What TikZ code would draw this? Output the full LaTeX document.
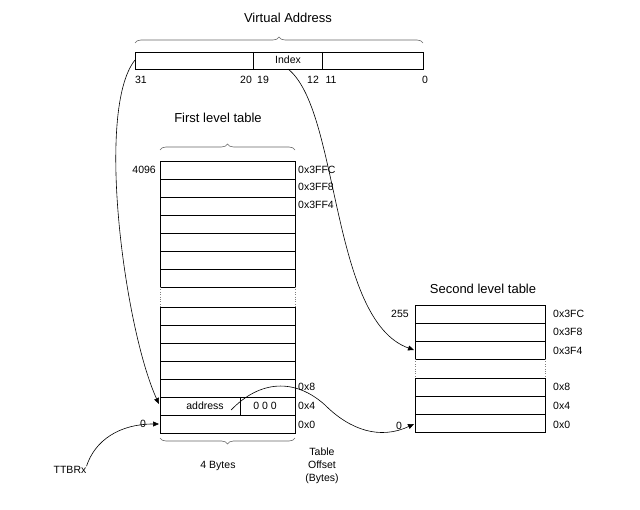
\documentclass[tikz,border=0pt]{standalone}
\usepackage{fontspec}
\setmainfont{Liberation Sans}
\usetikzlibrary{decorations.pathreplacing,arrows.meta}
\begin{document}
\begin{tikzpicture}[x=1pt,y=-1pt,
  cell/.style={draw,line width=0.6pt},
  lbl/.style={font=\fontsize{10.5}{12}\selectfont,inner sep=0pt},
  ttl/.style={font=\fontsize{13}{14}\selectfont,inner sep=0pt},
  brc/.style={draw=black!60,line width=0.6pt,decorate,decoration={brace,amplitude=6pt}},
  arr/.style={-{Triangle[length=6pt,width=5pt]},line width=0.6pt}]
\useasboundingbox (0,0) rectangle (640,510);
% virtual address
\node[ttl] (va) at (288,18) {Virtual Address};
\draw[brc] (135,43) -- (423,43);
\draw[cell] (135,52) rectangle (423,69);
\draw[cell] (253,52) -- (253,69) (322,52) -- (322,69);
\node[lbl] (idx) at (288,60) {Index};
\coordinate (vaL) at (135,60);
\coordinate (idxB) at (288,69);
\node[lbl] at (141,80) {31};
\node[lbl] at (246,80) {20};
\node[lbl] at (263,80) {19};
\node[lbl] at (313,80) {12};
\node[lbl] at (331,80) {11};
\node[lbl] at (425,80) {0};
% first level table
\node[ttl] (t1) at (218,118) {First level table};
\draw[brc] (160,150) -- (295,150);
\foreach \y in {161,179,197,215,233,251,269,307,325,343,361,379,397,415}
  \draw[cell] (160,\y) rectangle (295,\y+18);
\draw[dotted,gray] (160,287) -- (160,307) (295,287) -- (295,307);
\draw[cell] (240,397) -- (240,415);
\node[lbl] (addr) at (205,406) {address};
\node[lbl] (zeros) at (265,406) {0 0 0};
\node[lbl,anchor=west] at (298,170) {0x3FFC};
\node[lbl,anchor=west] at (298,187) {0x3FF8};
\node[lbl,anchor=west] at (298,205) {0x3FF4};
\node[lbl,anchor=west] at (298,387) {0x8};
\node[lbl,anchor=west] at (298,406) {0x4};
\node[lbl,anchor=west] at (298,425) {0x0};
\node[lbl,anchor=east] at (156,170) {4096};
\node[lbl] (z1) at (143,424) {0};
\draw[brc] (295,438) -- (160,438);
\node[lbl] at (218,466) {4 Bytes};
\node[lbl,align=center] at (322,466) {Table\\[1pt]Offset\\[1pt](Bytes)};
\node[lbl] (ttbr) at (70,470) {TTBRx};
% second level table
\node[ttl] (t2) at (483,289) {Second level table};
\foreach \y in {305,323,341,378,396,414}
  \draw[cell] (415,\y) rectangle (545,\y+18);
\draw[dotted,gray] (415,359) -- (415,378) (545,359) -- (545,378);
\node[lbl,anchor=west] at (553,314) {0x3FC};
\node[lbl,anchor=west] at (553,332) {0x3F8};
\node[lbl,anchor=west] at (553,351) {0x3F4};
\node[lbl,anchor=west] at (553,387) {0x8};
\node[lbl,anchor=west] at (553,406) {0x4};
\node[lbl,anchor=west] at (553,425) {0x0};
\node[lbl] at (400,314) {255};
\node[lbl] at (399,426) {0};
\coordinate (t1addr) at (159,404);
\coordinate (t1zero) at (159,424);
\coordinate (t2row) at (414,350);
\coordinate (t2zero) at (414,424);
% connectors
\draw[arr] (vaL) .. controls (95,110) and (125,330) .. (t1addr);
\draw[arr] (idxB) .. controls (340,110) and (330,320) .. (t2row);
\draw[arr] (zeros.west) ++(-22,4) .. controls (260,380) and (295,378) .. (325,405) .. controls (350,430) and (380,440) .. (t2zero);
\draw[arr] (ttbr.north east) .. controls (95,440) and (120,424) .. (t1zero);
\end{tikzpicture}
\end{document}
